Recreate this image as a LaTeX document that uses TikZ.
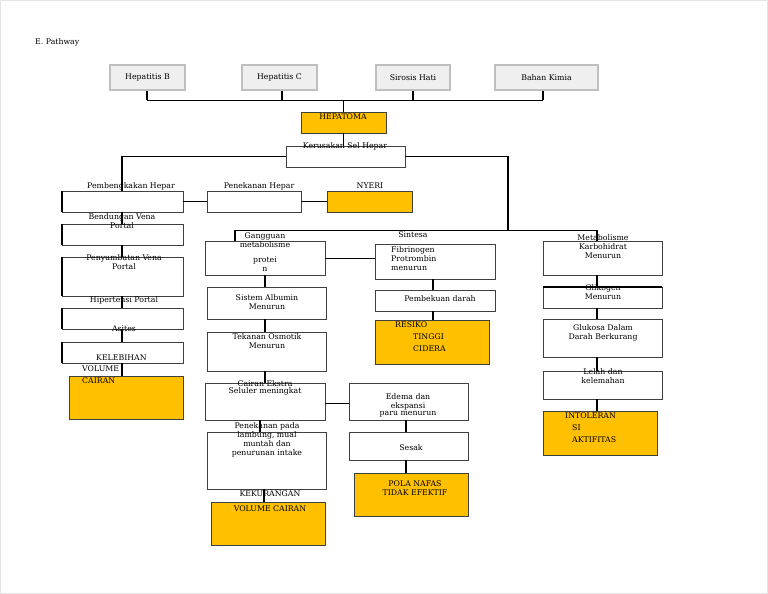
\documentclass[tikz,border=0pt]{standalone}
\usepackage{fontspec}
\setmainfont{DejaVu Serif}
\usetikzlibrary{fit}
\definecolor{org}{HTML}{FFC000}
\definecolor{gbox}{HTML}{EFEFEF}
\tikzset{
  bx/.style={draw=black!75,line width=0.8pt,inner sep=0pt,fill=white},
  ob/.style={bx,fill=org},
  gb/.style={draw=black!25,line width=1.2pt,inner sep=0pt,fill=gbox},
  t/.style={font=\fontsize{7.8}{9}\selectfont,inner sep=0pt,align=center},
  ln/.style={line width=0.8pt},
  tk/.style={line width=1.6pt},
}
\newcommand{\bxx}[6]{\node[#6,fit={(#2,#3)(#4,#5)}] (#1) {};}
\begin{document}
\begin{tikzpicture}[x=1pt,y=-1pt]
\useasboundingbox[fill=white] (0,0) rectangle (768,594);
\draw[black!10] (0.5,0.5) rectangle (767.5,593.5);
\node[t,anchor=west] (title) at (35,42) {E. Pathway};
% top
\bxx{hb}{110}{65}{185}{90}{gb}\node[t] (thb) at (hb) {Hepatitis B};
\bxx{hc}{242}{65}{317}{90}{gb}\node[t] (thc) at (hc) {Hepatitis C};
\bxx{sh}{376}{65}{450}{90}{gb}\node[t] (tsh) at (sh) {Sirosis Hati};
\bxx{bk}{495}{65}{598}{90}{gb}\node[t] (tbk) at (bk) {Bahan Kimia};
\bxx{hep}{301}{112}{386}{133}{ob}\node[t] (thep) at (343,117) {HEPATOMA};
\bxx{ker}{286}{146}{405}{167}{bx}\node[t] (tker) at (345,146) {Kerusakan Sel Hepar};
\coordinate (bus) at (343,100);
\draw[tk] (hb.south-|147,0) -- (147,100);
\draw[tk] (hc.south-|282,0) -- (282,100);
\draw[tk] (sh.south-|413,0) -- (413,100);
\draw[tk] (bk.south-|543,0) -- (543,100);
\draw[ln] (147,100) -- (543,100);
\draw[ln] (bus) -- (hep.north-|bus);
\draw[ln] (hep.south-|bus) -- (ker.north-|bus);
% row 2
\bxx{pb}{62}{191}{183}{212}{bx}\node[t] (tpb) at (131,186) {Pembengkakan Hepar};
\bxx{pn}{207}{191}{301}{212}{bx}\node[t] (tpn) at (259,186) {Penekanan Hepar};
\bxx{ny}{327}{191}{412}{212}{ob}\node[t] (tny) at (370,186) {NYERI};
\draw[tk] (ker.west) -| (122,191);
\draw[tk] (ker.east) -| (508,230);
\draw[ln] (pb.east) -- (pn.west);
\draw[ln] (pn.east) -- (ny.west);
% left column
\bxx{bv}{62}{224}{183}{245}{bx}\node[t] (tbv) at (122,221) {Bendungan Vena\\Portal};
\bxx{ps}{62}{257}{183}{296}{bx}\node[t] (tps) at (124,262) {Penyumbatan Vena\\Portal};
\bxx{hp}{62}{308}{183}{329}{bx}\node[t] (thp) at (124,300) {Hipertensi Portal};
\bxx{as}{62}{342}{183}{363}{bx}\node[t] (tas) at (124,329) {Asites};
\bxx{kv}{69}{376}{183}{419}{ob}
\node[t,anchor=west] (tkv1) at (96,358) {KELEBIHAN};
\node[t,anchor=west] (tkv2) at (82,369) {VOLUME};
\node[t,anchor=west] (tkv3) at (82,381) {CAIRAN};
\foreach \a/\b in {pb/bv,bv/ps,ps/hp,hp/as,as/kv}{\draw[tk] (\a.south-|122,0) -- (\b.north-|122,0);}
\foreach \n in {pb,bv,ps,hp,as}{\draw[line width=2pt] (\n.north west) -- (\n.south west);}
% middle bus
\draw[ln] (235,230) -- (597,230);
\bxx{gm}{205}{241}{325}{275}{bx}
\node[t] (tgm) at (265,240) {Gangguan\\metabolisme};
\node[t] (tgm2) at (265,264) {protei\\n};
\bxx{sf}{375}{244}{495}{279}{bx}
\node[t] (tsf1) at (413,235) {Sintesa};
\node[t,anchor=west,align=left] (tsf2) at (391,259) {Fibrinogen\\Protrombin\\menurun};
\bxx{mk}{543}{241}{662}{275}{bx}
\node[t] (tmk) at (603,247) {Metabolisme\\Karbohidrat\\Menurun};
\draw[tk] (235,230) -- (gm.north-|235,0);
\draw[tk] (597,230) -- (mk.north-|597,0);
\draw[ln] (gm.east) -- (gm.east-|sf.west);
% sintesa column
\bxx{pd}{375}{290}{495}{311}{bx}\node[t] (tpd) at (440,299) {Pembekuan darah};
\bxx{rt}{375}{320}{489}{364}{ob}
\node[t,anchor=west] (trt1) at (395,325) {RESIKO};
\node[t,anchor=west] (trt2) at (413,337) {TINGGI};
\node[t,anchor=west] (trt3) at (413,349) {CIDERA};
\draw[tk] (sf.south-|433,0) -- (pd.north-|433,0);
\draw[tk] (pd.south-|433,0) -- (rt.north-|433,0);
% middle column
\bxx{sa}{207}{287}{326}{319}{bx}\node[t] (tsa) at (267,302) {Sistem Albumin\\Menurun};
\bxx{to}{207}{332}{326}{371}{bx}\node[t] (tto) at (267,341) {Tekanan Osmotik\\Menurun};
\bxx{ce}{205}{383}{325}{420}{bx}
\node[t] (tce1) at (265,384) {Cairan Ekstra};
\node[t] (tce2) at (265,391) {Seluler meningkat};
\bxx{pl}{207}{432}{326}{489}{bx}\node[t] (tpl) at (267,440) {Penekanan pada\\lambung, mual\\muntah dan\\penurunan intake};
\bxx{kc}{211}{502}{325}{545}{ob}
\node[t] (tkc1) at (270,494) {KEKURANGAN};
\node[t] (tkc2) at (270,509) {VOLUME CAIRAN};
\draw[tk] (gm.south-|265,0) -- (sa.north-|265,0);
\draw[tk] (sa.south-|265,0) -- (to.north-|265,0);
\draw[tk] (to.south-|265,0) -- (ce.north-|265,0);
\draw[tk] (ce.south-|260,0) -- (pl.north-|260,0);
\draw[tk] (pl.south-|264,0) -- (kc.north-|264,0);
% edema column
\bxx{ed}{349}{383}{468}{420}{bx}\node[t] (ted) at (408,405) {Edema dan\\ekspansi\\[-2pt]paru menurun};
\bxx{ss}{349}{432}{468}{460}{bx}\node[t] (tss) at (411,448) {Sesak};
\bxx{pn2}{354}{473}{468}{516}{ob}\node[t] (tpn2) at (415,488) {POLA NAFAS\\TIDAK EFEKTIF};
\draw[ln] (ce.east|-0,403) -- (ed.west|-0,403);
\draw[tk] (ed.south-|406,0) -- (ss.north-|406,0);
\draw[tk] (ss.south-|406,0) -- (pn2.north-|406,0);
% right column
\bxx{gk}{543}{287}{662}{308}{bx}\node[t] (tgk) at (603,292) {Glikogen\\Menurun};
\draw[line width=1.8pt] (gk.north west) -- (gk.north east);
\bxx{gd}{543}{319}{662}{357}{bx}\node[t] (tgd) at (603,333) {Glukosa Dalam\\Darah Berkurang};
\bxx{lk}{543}{371}{662}{399}{bx}\node[t] (tlk) at (603,376) {Lelah dan\\kelemahan};
\bxx{ia}{543}{411}{657}{455}{ob}
\node[t,anchor=west] (tia1) at (565,416) {INTOLERAN};
\node[t,anchor=west] (tia2) at (572,428) {SI};
\node[t,anchor=west] (tia3) at (572,440) {AKTIFITAS};
\draw[tk] (mk.south-|597,0) -- (gk.north-|597,0);
\draw[tk] (gk.south-|597,0) -- (gd.north-|597,0);
\draw[tk] (gd.south-|597,0) -- (lk.north-|597,0);
\draw[tk] (lk.south-|597,0) -- (ia.north-|597,0);
\end{tikzpicture}
\end{document}
